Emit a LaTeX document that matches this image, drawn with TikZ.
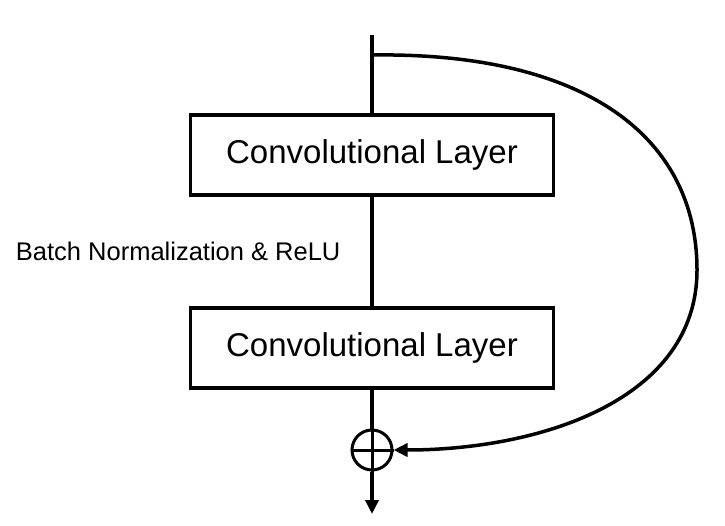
\documentclass[tikz,border=0pt]{standalone}
\usepackage{fontspec}
\setmainfont{Liberation Sans}
\usetikzlibrary{arrows.meta}
\begin{document}
\begin{tikzpicture}[x=1pt,y=-1pt,
  lw/.style={line width=3.5pt},
  box/.style={draw,line width=3.2pt,minimum width=363pt,minimum height=80pt,inner sep=0pt,font=\fontsize{33}{36}\selectfont},
  arr/.style={-{Triangle[length=14pt,width=13pt]}}]
\useasboundingbox (0,0) rectangle (725,526);
\coordinate (top) at (372,35);
\coordinate (start) at (372,55);
\node[box] (c1) at (372,155) {Convolutional Layer};
\node[box] (c2) at (372,348) {Convolutional Layer};
\node[draw,circle,line width=3pt,minimum size=40pt,inner sep=0pt] (sum) at (372,450) {};
\draw[line width=3pt] (sum.north) -- (sum.south) (sum.west) -- (sum.east);
\coordinate (out) at (372,514);
\coordinate (far) at (697,270);
\node[anchor=east,font=\fontsize{25.5}{28}\selectfont] (bn) at (344,251) {Batch Normalization \& ReLU};
\draw[lw] (top) -- (c1.north);
\draw[lw] (c1.south) -- (c2.north);
\draw[lw] (c2.south) -- (sum.north);
\draw[lw,arr] (sum.south) -- (out);
\draw[lw,arr] (start) .. controls (590,52) and (697,140) .. (far) .. controls (697,400) and (540,450) .. (sum.east);
\end{tikzpicture}
\end{document}
